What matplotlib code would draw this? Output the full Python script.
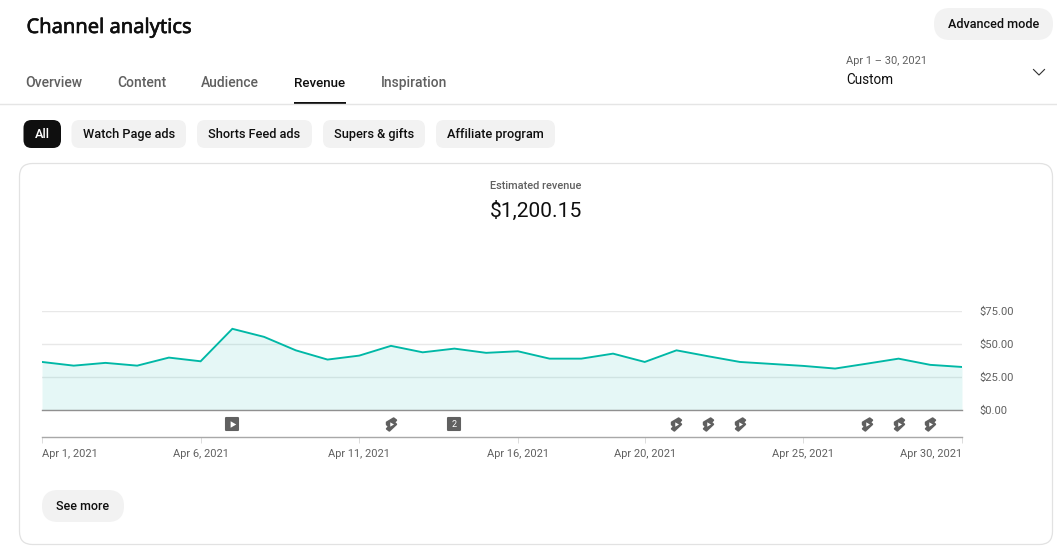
import matplotlib
matplotlib.use("Agg")
import matplotlib.pyplot as plt
import matplotlib.patheffects as pe
from matplotlib.patches import FancyBboxPatch, Rectangle
from matplotlib.path import Path
from matplotlib.markers import MarkerStyle

plt.rcParams['font.family'] = ['Roboto', 'DejaVu Sans']

days = list(range(1, 31))
revenue = [36.4, 33.6, 35.7, 33.6, 39.7, 36.9, 61.5, 55.4, 45.2, 38.2,
           41.2, 48.6, 43.7, 46.5, 43.3, 44.5, 38.9, 38.9, 42.7, 36.4,
           45.2, 40.7, 36.4, 34.9, 33.4, 31.4, 35.1, 38.9, 34.2, 32.6]
y_ticks = [0, 25, 50, 75]
y_labels = ['$0.00', '$25.00', '$50.00', '$75.00']
x_ticks = [1, 6, 11, 16, 20, 25, 30]
x_labels = ['Apr 1, 2021', 'Apr 6, 2021', 'Apr 11, 2021', 'Apr 16, 2021',
            'Apr 20, 2021', 'Apr 25, 2021', 'Apr 30, 2021']
video_days = [7]
shorts_days = [12, 21, 22, 23, 27, 28, 29]
multi_days = [14]
multi_counts = ['2']
tabs = ['Overview', 'Content', 'Audience', 'Revenue', 'Inspiration']
chips = ['All', 'Watch Page ads', 'Shorts Feed ads', 'Supers & gifts', 'Affiliate program']

W, H = 1057, 548
fig = plt.figure(figsize=(W / 100, H / 100), dpi=100, facecolor='white')
PX = 0.72

ui = fig.add_axes([0, 0, 1, 1], zorder=0)
ui.set_xlim(0, W); ui.set_ylim(H, 0); ui.axis('off')

def pill(x0, x1, y0, y1, r, fc='#f2f2f2', ec='none', lw=0):
    ui.add_patch(FancyBboxPatch((x0 + r, y0 + r), x1 - x0 - 2 * r, y1 - y0 - 2 * r,
                                boxstyle=f'round,pad={r},rounding_size={r}',
                                fc=fc, ec=ec, lw=lw, mutation_aspect=1))

def label(x, y, s, px, color='#0f0f0f', ha='left', weight='normal', family=None):
    kw = {}
    if family:
        kw['family'] = family
    return ui.text(x, y, s, fontsize=px * PX, color=color, ha=ha, va='baseline', weight=weight, **kw)

# Header
title = label(26.5, 33, 'Channel analytics', 20.1, family=['Noto Sans', 'DejaVu Sans'])
title.set_path_effects([pe.withStroke(linewidth=0.45, foreground='#0f0f0f')])
pill(934, 1053, 8, 40, 16)
label(993.5, 28, 'Advanced mode', 12.6, ha='center', weight=500)
label(846.5, 64, 'Apr 1 \u2013 30, 2021', 11, color='#606060')
label(846.5, 84, 'Custom', 13.5)
ui.plot([1033.5, 1039, 1044.5], [69.5, 75, 69.5], color='#303030', lw=0.8)

# Tabs
tab_x = [25.5, 116.8, 200.8, 294, 380.8]
for tx, t in zip(tab_x, tabs):
    active = t == 'Revenue'
    label(tx, 87, t, 13.4 if active else 13.9, color='#0f0f0f' if active else '#606060', weight=500)
ui.plot([0, W], [104.2, 104.2], color='#e5e5e5', lw=1)
ui.add_patch(Rectangle((293.5, 102), 52, 2, fc='#0f0f0f', ec='none'))

# Chips
chip_spans = [(23.5, 61), (71.5, 186), (197, 312), (323, 425), (436, 555)]
for (x0, x1), c in zip(chip_spans, chips):
    active = c == 'All'
    pill(x0, x1, 120, 148, 8, fc='#0f0f0f' if active else '#f2f2f2')
    label((x0 + x1) / 2, 138, c, 12.8, color='white' if active else '#0f0f0f', ha='center', weight=500)

# Card
pill(19.5, 1052.5, 163.5, 544.5, 13, fc='white', ec='#e2e2e2', lw=0.9)
label(536, 189, 'Estimated revenue', 11, color='#606060', ha='center', weight=500)
label(536.5, 217, '$1,200.15', 21, ha='center')
pill(42, 124, 490, 522, 16)
label(83, 510, 'See more', 12.5, ha='center', weight=500)

# Main chart
def rect(x0, y0, x1, y1):
    return [x0 / W, 1 - y1 / H, (x1 - x0) / W, (y1 - y0) / H]

ax = fig.add_axes(rect(42, 311, 962, 410), zorder=2)
ax.patch.set_alpha(0)
ax.set_xlim(1, 30); ax.set_ylim(0, 75)
for s in ax.spines.values():
    s.set_visible(False)
ax.spines['bottom'].set_visible(True)
ax.spines['bottom'].set_color('#909090')
ax.spines['bottom'].set_linewidth(1)
ax.set_xticks([])
ax.yaxis.tick_right()
ax.set_yticks(y_ticks, y_labels)
ax.tick_params(axis='y', length=0, pad=12.4, labelsize=11.2 * PX, labelcolor='#606060')
ax.grid(axis='y', color='#e8e8e8', lw=1)
ax.set_axisbelow(True)
ax.fill_between(days, revenue, 0, color='#00b8b0', alpha=0.10, lw=0)
ax.plot(days, revenue, color='#00b8a6', lw=1.9 * PX, solid_joinstyle='miter')

# Event strip with date axis
st = fig.add_axes(rect(42, 410, 962, 437.3), zorder=2)
st.patch.set_alpha(0)
st.set_xlim(1, 30); st.set_ylim(0, 1)
for n in ['top', 'left', 'right']:
    st.spines[n].set_visible(False)
st.spines['bottom'].set_color('#a8a8a8')
st.spines['bottom'].set_linewidth(1)
st.set_yticks([])
st.set_xticks(x_ticks, x_labels)
st.tick_params(axis='x', length=4.5, width=0.7, color='#dcdcdc', pad=3.8,
               labelsize=11 * PX, labelcolor='#606060')
for t, ha in zip(st.get_xticklabels(), ['left', 'center', 'center', 'center', 'center', 'center', 'right']):
    t.set_ha(ha)
    t.set_clip_on(False)

BADGE = '#606060'
ymid = 0.5
square = MarkerStyle('s', joinstyle='round')
for d in video_days + multi_days:
    st.plot([d], [ymid], ls='none', marker=square, ms=12.5 * PX, mfc=BADGE, mec=BADGE, mew=1.5, clip_on=False)
st.plot(video_days, [ymid] * len(video_days), ls='none', marker=(3, 0, -90), ms=7.5 * PX, mfc='white', mec='none')
for d, c in zip(multi_days, multi_counts):
    st.text(d, ymid - 0.02, c, ha='center', va='center', fontsize=9 * PX, color='white')

# Shorts glyph: an S-shaped pair of slanted capsules with a play triangle
s_verts = [(-4.4, 2.0), (2.0, 5.8), (4.4, 4.0), (2.4, 2.0), (4.4, 0.2),
           (-2.0, -5.8), (-4.4, -4.0), (-2.4, -2.0), (-4.4, 0.0)]
s_codes = [Path.MOVETO] + [Path.LINETO] * 8 + [Path.CLOSEPOLY]
shorts = Path(s_verts + [s_verts[0]], s_codes)
shorts_marker = MarkerStyle(shorts, joinstyle='round')
sy = [ymid - 0.03] * len(shorts_days)
st.plot(shorts_days, sy, ls='none', marker=shorts_marker, ms=12.5 * PX,
        mfc=BADGE, mec=BADGE, mew=1.4, clip_on=False)
st.plot(shorts_days, sy, ls='none', marker=(3, 0, -90), ms=5 * PX, mfc='white', mec='none')

fig.savefig('out.png', dpi=100, facecolor='white')
